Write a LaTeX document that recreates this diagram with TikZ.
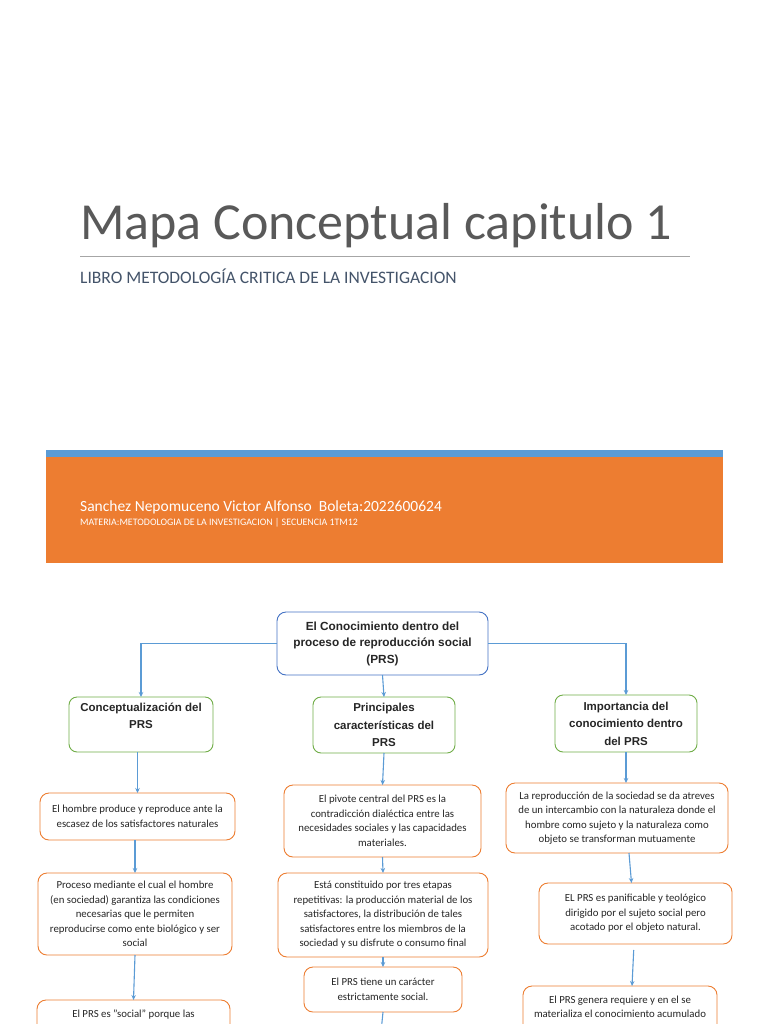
\documentclass[tikz,border=0pt]{standalone}
\usepackage{fontspec}
\setmainfont{Carlito}
\newfontfamily\boxhead{Liberation Sans}
\usetikzlibrary{arrows.meta,positioning}
\definecolor{MapaTitle}{HTML}{595959}
\definecolor{MapaRule}{HTML}{A6A6A6}
\definecolor{MapaSub}{HTML}{44546A}
\definecolor{MapaOrange}{HTML}{ED7D31}
\definecolor{MapaBlue}{HTML}{5B9BD5}
\definecolor{MapaFrame}{HTML}{4472C4}
\definecolor{MapaGreen}{HTML}{70AD47}
\definecolor{MapaInk}{HTML}{262626}

\begin{document}
\begin{tikzpicture}[x=1pt,y=-1pt,
  topbox/.style={draw=MapaFrame,line width=0.9pt,rounded corners=9pt,fill=white,outer sep=0pt,align=center,text=MapaInk,font=\boxhead\bfseries\fontsize{11.8}{16.5}\selectfont},
  headbox/.style={draw=MapaGreen,line width=0.9pt,rounded corners=8pt,fill=white,outer sep=0pt,align=center,text=MapaInk,font=\boxhead\bfseries\fontsize{11.5}{17.5}\selectfont},
  notebox/.style={draw=MapaOrange,line width=0.9pt,rounded corners=9pt,fill=white,outer sep=0pt,align=center,text=MapaInk,font=\fontsize{10.8}{14.5}\selectfont},
  link/.style={draw=MapaBlue,line width=1.1pt,-{Stealth[length=5pt,width=4.5pt]}}]
\useasboundingbox[fill=white] (0,0) rectangle (768,1024);
% title page
\node[anchor=base west,inner sep=0pt,text=MapaTitle,font=\fontsize{52}{58}\selectfont] (title) at (80,240) {Mapa Conceptual capitulo 1};
\draw[MapaRule,line width=0.8pt] (80,256) -- (690,256);
\node[anchor=base west,inner sep=0pt,text=MapaSub,font=\fontsize{17.5}{20}\selectfont] (subtitle) at (80,283.5) {LIBRO METODOLOGÍA CRITICA DE LA INVESTIGACION};
\fill[MapaBlue] (46,450) rectangle (723,457);
\fill[MapaOrange] (46,457) rectangle (723,563);
\node[anchor=base west,inner sep=0pt,text=white,font=\fontsize{15.5}{18}\selectfont] (author) at (80,511) {Sanchez Nepomuceno Victor Alfonso\ \ Boleta:2022600624};
\node[anchor=base west,inner sep=0pt,text=white,font=\fontsize{9.9}{11}\selectfont] (course) at (80,525) {MATERIA:METODOLOGIA DE LA INVESTIGACION | SECUENCIA 1TM12};
% concept map
\node[topbox,minimum width=211pt,minimum height=63pt] (top) at (382.5,643.5) {El Conocimiento dentro del\\proceso de reproducción social\\(PRS)};
\node[headbox,minimum width=144pt,minimum height=55pt] (conc) at (141,724.5) {Conceptualización del\\PRS\\\mbox{}};
\node[headbox,minimum width=142pt,minimum height=56pt] (prin) at (384,725) {Principales\\características del\\PRS};
\node[headbox,minimum width=142pt,minimum height=57pt] (imp) at (626,723.5) {Importancia del\\conocimiento dentro\\del PRS};
\node[notebox,minimum width=195pt,minimum height=47pt] (l1) at (137.5,816.5) {El hombre produce y reproduce ante la\\escasez de los satisfactores naturales};
\node[notebox,minimum width=194pt,minimum height=82pt] (l2) at (135,914) {Proceso mediante el cual el hombre\\(en sociedad) garantiza las condiciones\\necesarias que le permiten\\reproducirse como ente biológico y ser\\social};
\node[notebox,anchor=north,minimum width=193pt,inner ysep=9pt,text height=8pt,text depth=60pt] (l3) at (133.5,1000) {El PRS es "social" porque las};
\node[notebox,minimum width=197pt,minimum height=72pt] (m1) at (382.5,821) {El pivote central del PRS es la\\contradicción dialéctica entre las\\necesidades sociales y las capacidades\\materiales.};
\node[notebox,minimum width=210pt,minimum height=84pt] (m2) at (383,915) {Está constituido por tres etapas\\repetitivas: la producción material de los\\satisfactores, la distribución de tales\\satisfactores entre los miembros de la\\sociedad y su disfrute o consumo final};
\node[notebox,minimum width=158pt,minimum height=45pt] (m3) at (383,989.5) {El PRS tiene un carácter\\estrictamente social.};
\node[notebox,minimum width=222pt,minimum height=70pt] (r1) at (617,818) {La reproducción de la sociedad se da atreves\\de un intercambio con la naturaleza donde el\\hombre como sujeto y la naturaleza como\\objeto se transforman mutuamente};
\node[notebox,minimum width=193pt,minimum height=61pt] (r2) at (635.5,913.5) {EL PRS es panificable y teológico\\dirigido por el sujeto social pero\\acotado por el objeto natural.};
\node[notebox,anchor=north,minimum width=194pt,inner ysep=9pt,text height=22.5pt,text depth=60pt] (r3) at (620,986) {El PRS genera requiere y en el se\\materializa el conocimiento acumulado};
\coordinate (m3out) at (381,1032);
% connectors
\draw[link] (top.west) -| (conc.north);
\draw[link] (top.east) -| (imp.north);
\draw[link] (top.south) -- (prin.north);
\draw[link] (l1.north |- conc.south) -- (l1.north);
\draw[link] (l2.north |- l1.south) -- (l2.north);
\draw[link] (l2.south) -- (l3.north);
\draw[link] (prin.south) -- (m1.north);
\draw[link] (m1.south) -- (m2.north);
\draw[link] (m2.south) -- (m3.north);
\draw[link] (m3.south) -- (m3out);
\draw[link] (imp.south) -- (imp.south |- r1.north);
\draw[link] ([xshift=12pt]r1.south) -- ([xshift=-4pt]r2.north);
\draw[link,shorten <=6pt] ([xshift=-1.5pt]r2.south) -- ([xshift=12pt]r3.north);
\end{tikzpicture}
\end{document}
